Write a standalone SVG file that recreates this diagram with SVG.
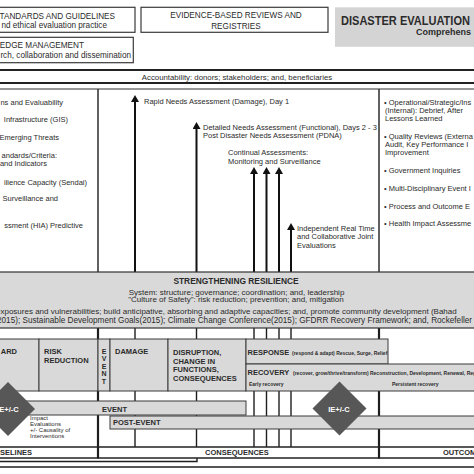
<svg xmlns="http://www.w3.org/2000/svg" width="474" height="474" viewBox="0 0 474 474">
<style>
text{font-family:"Liberation Sans",Arial,Helvetica,sans-serif;fill:#2b2b2b}
.s{font-size:7.5px}
.m{font-size:8.2px}
.g{font-size:8px}
.b{font-weight:bold}
.ph{font-size:7.5px;font-weight:bold}
.tiny{font-size:5px;font-weight:bold}
.c{text-anchor:middle}
.e{text-anchor:end}
.box{fill:#fff;stroke:#3a3a3a;stroke-width:1.2}
.gray{fill:#d9d9d9;stroke:#3a3a3a;stroke-width:1}
.ln{stroke:#1e1e1e;stroke-width:1.4;fill:none}
.thick{stroke:#1e1e1e;stroke-width:2.2;fill:none}
.arr{stroke:#111;stroke-width:2;fill:none;marker-end:url(#ah)}
.dia{fill:#575757}
.dt{font-size:7.5px;font-weight:bold;fill:#fff;text-anchor:middle}
</style>
<defs>
<marker id="ah" markerUnits="userSpaceOnUse" markerWidth="7" markerHeight="8" refX="0.5" refY="4" orient="auto" viewBox="0 0 7 8">
<path d="M0,0 L7,4 L0,8 z" fill="#111"/>
</marker>
</defs>
<rect width="474" height="474" fill="#fff"/>

<g id="connectors">
<line class="ln" x1="98" y1="89" x2="98" y2="272"/>
<line class="ln" x1="379" y1="89" x2="379" y2="272"/>
<line class="arr" x1="135" y1="272" x2="135" y2="101.5"/>
<line class="arr" x1="196.5" y1="272" x2="196.5" y2="128.5"/>
<line class="arr" x1="254" y1="272" x2="254" y2="173.5"/>
<line class="arr" x1="266.5" y1="272" x2="266.5" y2="173.5"/>
<line class="arr" x1="279" y1="272" x2="279" y2="173.5"/>
<line class="arr" x1="291" y1="272" x2="291" y2="229.5"/>
<line class="thick" x1="98" y1="328" x2="98" y2="458"/>
<line class="thick" x1="379" y1="328" x2="379" y2="458"/>
<line class="ln" x1="135" y1="328" x2="135" y2="447"/>
<line class="ln" x1="196.5" y1="328" x2="196.5" y2="447"/>
<line class="ln" x1="254" y1="328" x2="254" y2="447"/>
<line class="ln" x1="266.5" y1="328" x2="266.5" y2="447"/>
<line class="ln" x1="279" y1="328" x2="279" y2="447"/>
<line class="ln" x1="291" y1="328" x2="291" y2="447"/>
<path class="ln" d="M-2,461.5 H197 V458"/>
<line class="ln" x1="-2" y1="467" x2="476" y2="467"/>
</g>

<g id="standards">
<rect class="box" x="-10" y="7.3" width="145" height="25"/>
<text class="m e" x="115" y="18.5">TANDARDS AND GUIDELINES</text>
<text class="m e" x="107" y="27.7">nd ethical evaluation practice</text>
</g>
<g id="knowledge">
<rect class="box" x="-10" y="37.3" width="143.3" height="25.4"/>
<text class="m e" x="84" y="47.5">EDGE MANAGEMENT</text>
<text class="m e" x="131" y="58">rch, collaboration and dissemination</text>
</g>
<g id="evidence">
<rect class="box" x="141" y="7.3" width="187" height="25"/>
<text class="m c" x="236" y="17.5">EVIDENCE-BASED REVIEWS AND</text>
<text class="m c" x="236" y="28.5">REGISTRIES</text>
</g>
<g id="title">
<rect x="335" y="7.3" width="145" height="39.5" fill="#d4d4d4"/>
<text class="b" x="341" y="24.5" font-size="12.5" textLength="129" lengthAdjust="spacingAndGlyphs">DISASTER EVALUATION</text>
<text class="b" x="416" y="34.5" font-size="9">Comprehens</text>
</g>
<g id="accountability">
<rect x="-5" y="70" width="484" height="13" fill="#fff" stroke="#222" stroke-width="2"/>
<text class="c" x="237" y="79.5" font-size="7.8">Accountability: donors; stakeholders; and, beneficiaries</text>
<line x1="-5" y1="89" x2="479" y2="89" stroke="#333" stroke-width="1.2"/>
</g>

<g id="baseline-items">
<text class="s e" x="63" y="104.5">ns and Evaluability</text>
<text class="s e" x="68" y="122">Infrastructure (GIS)</text>
<text class="s e" x="59" y="139.5">Emerging Threats</text>
<text class="s e" x="57" y="157.5">andards/Criteria:</text>
<text class="s e" x="47" y="166">and Indicators</text>
<text class="s e" x="87" y="184.5">ilience Capacity (Sendai)</text>
<text class="s e" x="58" y="201">Surveillance and</text>
<text class="s e" x="83" y="227.5">ssment (HIA) Predictive</text>
</g>

<g id="assessments">
<text class="s" x="144" y="103.5">Rapid Needs Assessment (Damage), Day 1</text>
<text class="s" x="203" y="129.5">Detailed Needs Assessment (Functional), Days 2 - 3</text>
<text class="s" x="203" y="138">Post Disaster Needs Assessment (PDNA)</text>
<text class="s" x="228" y="154.5">Continual Assessments:</text>
<text class="s" x="228" y="163.5">Monitoring and Surveillance</text>
<text class="s" x="297" y="230.5">Independent Real Time</text>
<text class="s" x="297" y="238.5">and Collaborative Joint</text>
<text class="s" x="297" y="247.5">Evaluations</text>
</g>

<g id="outcome-items">
<text class="s" x="384" y="104.5">• Operational/Strategic/Ins</text>
<text class="s" x="385" y="112.5">(Internal): Debrief, After</text>
<text class="s" x="385" y="120.5">Lessons Learned</text>
<text class="s" x="384" y="138.5">• Quality Reviews (Externa</text>
<text class="s" x="385" y="146.5">Audit, Key Performance I</text>
<text class="s" x="385" y="155">Improvement</text>
<text class="s" x="384" y="172.5">• Government Inquiries</text>
<text class="s" x="384" y="190.5">• Multi-Disciplinary Event I</text>
<text class="s" x="384" y="208.5">• Process and Outcome E</text>
<text class="s" x="384" y="225.5">• Health Impact Assessme</text>
</g>

<g id="resilience">
<rect x="-5" y="272" width="484" height="56" fill="#d9d9d9" stroke="#333" stroke-width="1.2"/>
<text class="c b" x="236" y="284" font-size="8.4">STRENGTHENING RESILIENCE</text>
<text class="g c" x="236.5" y="294.5">System: structure; governance; coordination; and, leadership</text>
<text class="g c" x="236" y="302.3">&quot;Culture of Safety&quot;: risk reduction; prevention; and, mitigation</text>
<text class="g" x="-4" y="313.5">exposures and vulnerabilities; build anticipative, absorbing and adaptive capacities; and, promote community development (Bahad</text>
<text x="-3" y="323" font-size="8.2">2015); Sustainable Development Goals(2015); Climate Change Conference(2015); GFDRR Recovery Framework; and, Rockefeller</text>
</g>

<g id="hazard">
<rect class="gray" x="-5" y="339" width="44" height="52"/>
<text class="ph e" x="17" y="354.4">ARD</text>
</g>
<g id="risk-reduction">
<rect class="gray" x="39" y="339" width="59" height="52"/>
<text class="ph" x="44" y="354.4">RISK</text>
<text class="ph" x="44" y="362.7">REDUCTION</text>
</g>
<g id="event-col">
<rect class="gray" x="98" y="339" width="12" height="52"/>
<text class="c b" x="104" y="353.5" font-size="7">E</text>
<text class="c b" x="104" y="361" font-size="7">V</text>
<text class="c b" x="104" y="368.7" font-size="7">E</text>
<text class="c b" x="104" y="376" font-size="7">N</text>
<text class="c b" x="104" y="383.7" font-size="7">T</text>
</g>
<g id="damage">
<rect class="gray" x="110" y="339" width="58" height="52"/>
<text class="ph" x="115" y="354.4">DAMAGE</text>
</g>
<g id="disruption">
<rect class="gray" x="168" y="339" width="78" height="52"/>
<text class="ph" x="173" y="355">DISRUPTION,</text>
<text class="ph" x="173" y="363.7">CHANGE IN</text>
<text class="ph" x="173" y="372">FUNCTIONS,</text>
<text class="ph" x="173" y="381">CONSEQUENCES</text>
</g>
<g id="response">
<rect class="gray" x="246" y="339" width="142" height="25"/>
<text class="ph" x="247.5" y="355" font-size="7.7">RESPONSE</text>
<text class="tiny" x="292" y="355">(respond &amp; adapt) Rescue, Surge, Relief</text>
</g>
<g id="recovery">
<rect class="gray" x="246" y="364" width="232" height="27"/>
<text class="ph" x="247.5" y="375" font-size="7.7">RECOVERY</text>
<text class="tiny" x="293" y="375">(recover, grow/thrive/transform) Reconstruction, Development, Renewal, Reg</text>
<text class="tiny" x="249" y="385.7" font-size="4.8">Early recovery</text>
<text class="tiny" x="392" y="385.7" font-size="4.8">Persistent recovery</text>
</g>
<g id="event-bar">
<rect class="gray" x="-5" y="401" width="251" height="14"/>
<text class="ph" x="102" y="411.7">EVENT</text>
</g>
<g id="post-event-bar">
<rect class="gray" x="110" y="416" width="370" height="13"/>
<text class="ph" x="113" y="425">POST-EVENT</text>
</g>

<g id="baselines">
<rect x="-5" y="447" width="103" height="11" fill="#fff" stroke="#222" stroke-width="1.5"/>
<text class="ph" x="0" y="455.4">SELINES</text>
</g>
<g id="consequences">
<rect x="98" y="447" width="281" height="11" fill="#fff" stroke="#222" stroke-width="1.5"/>
<text class="ph c" x="237" y="455.4">CONSEQUENCES</text>
</g>
<g id="outcomes">
<rect x="379" y="447" width="101" height="11" fill="#fff" stroke="#222" stroke-width="1.5"/>
<text class="ph" x="443" y="455.4">OUTCOMES</text>
</g>
<line x1="98" y1="447" x2="98" y2="458" stroke="#1e1e1e" stroke-width="2.2"/>
<line x1="379" y1="447" x2="379" y2="458" stroke="#1e1e1e" stroke-width="2.2"/>

<g id="ie-baseline">
<polygon class="dia" points="8,382 35,409 8,436 -19,409"/>
<text class="dt" x="8" y="411.7">IE+/-C</text>
<text x="30" y="420" font-size="6" fill="#444">Impact</text>
<text x="30" y="426" font-size="6" fill="#444">Evaluations</text>
<text x="30" y="431.8" font-size="6" fill="#444">+/- Causality of</text>
<text x="30" y="438.2" font-size="6" fill="#444">Interventions</text>
</g>
<g id="ie-consequence">
<polygon class="dia" points="339.5,381.5 366.5,408.5 339.5,435.5 312.5,408.5"/>
<text class="dt" x="339" y="411.5">IE+/-C</text>
</g>
</svg>
